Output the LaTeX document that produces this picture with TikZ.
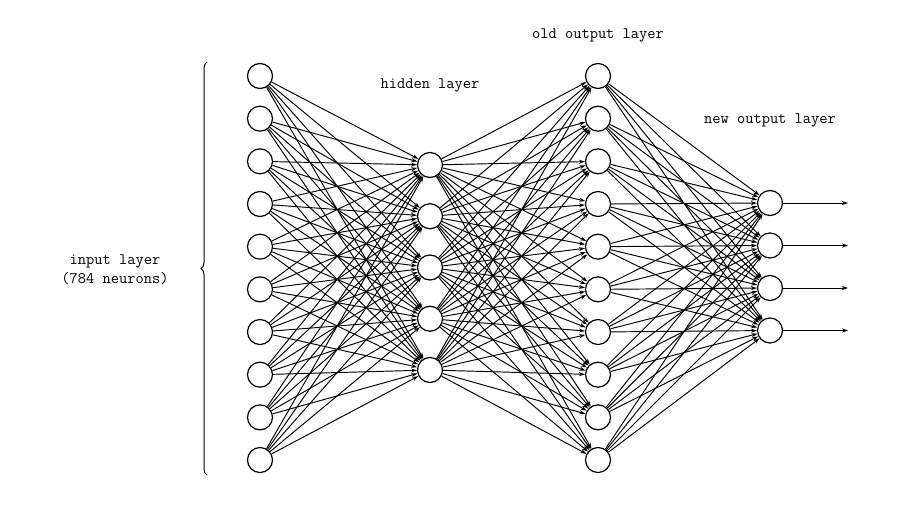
\documentclass[tikz,border=0pt]{standalone}
\usetikzlibrary{decorations.pathreplacing,arrows.meta}
\begin{document}
\begin{tikzpicture}[x=1pt,y=-1pt,
  neuron/.style={circle,draw,line width=1.2pt,minimum size=25pt,inner sep=0pt,fill=white},
  conn/.style={-{Stealth[length=6pt,width=4pt]},line width=0.95pt},
  lbl/.style={font=\ttfamily\fontsize{16}{19}\selectfont,align=center}]
\useasboundingbox (0,0) rectangle (913,521);
\foreach \i in {1,...,10}{
  \node[neuron] (I\i) at (260,{76+(\i-1)*42.67}) {};
  \node[neuron] (O\i) at (598,{76+(\i-1)*42.67}) {};
}
\foreach \j in {1,...,5}{ \node[neuron] (H\j) at (430,{165+(\j-1)*51.25}) {}; }
\foreach \k in {1,...,4}{ \node[neuron] (N\k) at (770,{203+(\k-1)*42.5}) {}; }
\foreach \i in {1,...,10}{\foreach \j in {1,...,5}{
  \draw[conn] (I\i) -- (H\j);
  \draw[conn] (H\j) -- (O\i);
}}
\foreach \i in {1,...,10}{\foreach \k in {1,...,4}{ \draw[conn] (O\i) -- (N\k); }}
\foreach \k in {1,...,4}{
  \coordinate (E\k) at (848,{203+(\k-1)*42.5});
  \draw[conn] (N\k) -- (E\k);
}
\coordinate (B1) at (207,62); \coordinate (B2) at (207,475);
\draw[decorate,decoration={brace,amplitude=6pt},line width=1pt] (B2) -- (B1);
\node[lbl] (li) at (115,270) {input layer\\(784 neurons)};
\node[lbl] (lh) at (430,85) {hidden layer};
\node[lbl] (lo) at (598,35) {old output layer};
\node[lbl] (ln) at (770,120) {new output layer};
\end{tikzpicture}
\end{document}
